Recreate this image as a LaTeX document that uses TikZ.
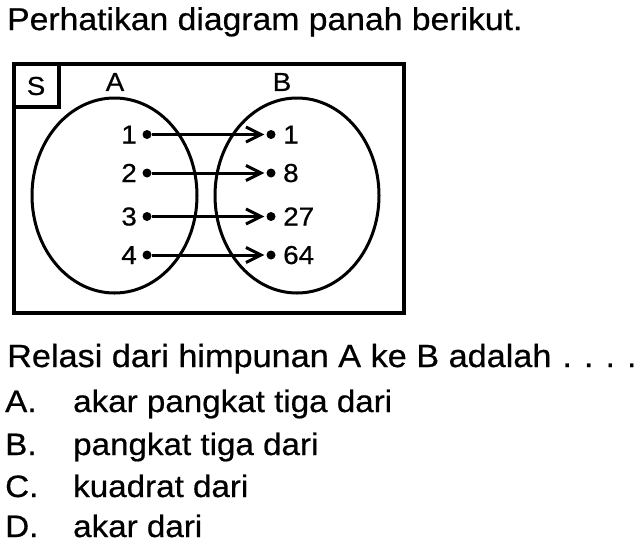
\documentclass[tikz,border=0pt]{standalone}
\usepackage{fontspec}
\setmainfont{Liberation Sans}[FakeStretch=1.07,FakeBold=0.6]
\usetikzlibrary{arrows.meta}
\begin{document}
\begin{tikzpicture}[x=1pt,y=-1pt,
  bigtext/.style={anchor=base west,inner sep=0pt,font=\fontsize{31}{37}\selectfont},
  titletext/.style={anchor=base west,inner sep=0pt,font=\fontsize{31.5}{38}\selectfont},
  lbl/.style={inner sep=0pt,font=\fontsize{26}{31}\selectfont},
  pt/.style={circle,fill=black,inner sep=0pt,minimum size=9pt},
  arr/.style={line width=3pt,-{Straight Barb[length=15pt,width=15pt,line width=3pt]},shorten >=2pt},
  frame/.style={line width=3.2pt},
  oval/.style={line width=3pt}]
\useasboundingbox (0,0) rectangle (639,552);
% title
\node[titletext] (title) at (7,30) {Perhatikan diagram panah berikut.};
% universal set
\draw[frame] (14,64) rectangle (404,313);
\draw[frame] (14,64) rectangle (59,107);
\node[lbl] (S) at (36,86) {S};
\node[lbl] (A) at (115,82) {A};
\node[lbl] (B) at (282,82) {B};
% ellipses
\draw[oval] (114.5,195.5) ellipse [x radius=82.5, y radius=97.5];
\draw[oval] (297,195.5) ellipse [x radius=82, y radius=97.5];
% points in A
\node[pt] (a1) at (147,134.5) {};
\node[pt] (a2) at (147,173) {};
\node[pt] (a3) at (147,216.5) {};
\node[pt] (a4) at (147,255) {};
% points in B
\node[pt] (b1) at (271,134.5) {};
\node[pt] (b2) at (271,173) {};
\node[pt] (b3) at (271,216.5) {};
\node[pt] (b4) at (271,255) {};
% labels
\node[lbl,anchor=base east] (la1) at (137,143.5) {1};
\node[lbl,anchor=base east] (la2) at (137,182) {2};
\node[lbl,anchor=base east] (la3) at (137,225.5) {3};
\node[lbl,anchor=base east] (la4) at (137,264) {4};
\node[lbl,anchor=base west] (lb1) at (283,143.5) {1};
\node[lbl,anchor=base west] (lb2) at (283,182) {8};
\node[lbl,anchor=base west] (lb3) at (283,225.5) {27};
\node[lbl,anchor=base west] (lb4) at (283,264) {64};
% arrows
\draw[arr] (a1) -- (b1);
\draw[arr] (a2) -- (b2);
\draw[arr] (a3) -- (b3);
\draw[arr] (a4) -- (b4);
% question
\node[bigtext,font=\fontsize{32}{38}\selectfont] (q) at (7,367) {Relasi dari himpunan A ke B adalah\kern11pt.\kern12pt.\kern12pt.\kern12pt.};
\node[bigtext] (oA) at (5,412) {A.};
\node[bigtext] (tA) at (73,412) {akar pangkat tiga dari};
\node[bigtext] (oB) at (5,455) {B.};
\node[bigtext] (tB) at (73,455) {pangkat tiga dari};
\node[bigtext] (oC) at (5,497) {C.};
\node[bigtext] (tC) at (73,497) {kuadrat dari};
\node[bigtext] (oD) at (5,537) {D.};
\node[bigtext] (tD) at (73,537) {akar dari};
\end{tikzpicture}
\end{document}
